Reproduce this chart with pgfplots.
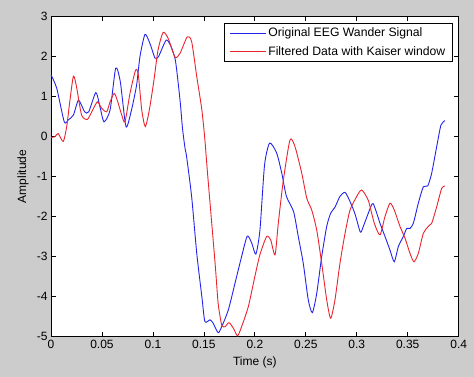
\documentclass[border=0pt]{standalone}
\usepackage{pgfplots}
\pgfplotsset{compat=1.18}
\usepackage{fontspec}
\setmainfont{Liberation Sans}
\definecolor{figbg}{RGB}{204,204,204}
\definecolor{mblue}{RGB}{35,35,235}
\definecolor{mred}{RGB}{235,35,45}
\begin{document}
\begin{tikzpicture}[x=1pt,y=1pt]
\fill[figbg] (0,0) rectangle (474,377);
\begin{axis}[
  at={(51pt,40.3pt)}, anchor=south west,
  width=407.7pt, height=320.7pt, scale only axis,
  xmin=0, xmax=0.4, ymin=-5, ymax=3,
  xtick={0,0.05,0.1,0.15,0.2,0.25,0.3,0.35,0.4},
  xticklabels={0,0.05,0.1,0.15,0.2,0.25,0.3,0.35,0.4},
  ytick={-5,-4,-3,-2,-1,0,1,2,3},
  yticklabels={-5,-4,-3,-2,-1,0,1,2,3},
  tick align=inside, major tick length=5pt,
  tick style={black, line width=0.7pt},
  axis line style={line width=0.8pt},
  axis background/.style={fill=white},
  ticklabel style={font=\fontsize{12}{14}\selectfont},
  label style={font=\fontsize{12}{14}\selectfont},
  xlabel={Time (s)}, ylabel={Amplitude},
  xlabel style={at={(axis description cs:0.5,0)}, anchor=north, inner sep=0pt, yshift=-20pt},
  ylabel style={at={(axis description cs:0,0.5)}, anchor=center, inner sep=0pt, yshift=28pt},
  legend style={at={(1,1)}, anchor=north east, xshift=-6pt, yshift=-6.7pt,
    draw=black, line width=0.8pt, fill=white, font=\fontsize{12.2}{14}\selectfont,
    inner xsep=5pt, inner ysep=3pt, row sep=4pt,
    nodes={inner sep=2pt, line width=0.9pt}},
  legend cell align=left,
  legend image code/.code={\draw[#1] (0pt,0pt) -- (36pt,0pt);},
]
\addplot[mblue, line width=0.9pt, smooth, tension=0.4] coordinates {
(0,1.53) (0.0056,1.2) (0.013,0.36) (0.017,0.41) (0.022,0.53) (0.027,0.9)
(0.033,0.61) (0.037,0.61) (0.044,1.09) (0.048,0.74) (0.052,0.36) (0.058,0.66)
(0.0635,1.70) (0.068,1.36) (0.0736,0.24) (0.079,0.66) (0.084,1.28) (0.0873,1.99)
(0.0922,2.54) (0.097,2.32) (0.102,1.95) (0.105,1.97) (0.107,2.07) (0.113,2.40)
(0.117,2.28) (0.122,1.90) (0.1266,0.9) (0.129,0.2) (0.1315,-0.3) (0.133,-0.5)
(0.138,-1.51) (0.143,-2.92) (0.148,-4.0) (0.151,-4.62) (0.156,-4.58) (0.159,-4.66)
(0.164,-4.9) (0.1675,-4.75) (0.174,-4.33) (0.1805,-3.67) (0.187,-3.0) (0.1926,-2.49)
(0.197,-2.67) (0.201,-2.94) (0.205,-2.34) (0.2095,-0.72) (0.2145,-0.17) (0.2214,-0.42)
(0.2264,-0.92) (0.231,-1.5) (0.238,-1.88) (0.2426,-2.5) (0.2475,-3.17) (0.2524,-4.08)
(0.2564,-4.40) (0.2607,-3.92) (0.2656,-3.0) (0.2705,-2.25) (0.2744,-1.92) (0.2786,-1.77)
(0.2835,-1.50) (0.2885,-1.40) (0.2934,-1.63) (0.2983,-1.94) (0.3035,-2.39) (0.3064,-2.25)
(0.315,-1.69) (0.318,-1.80) (0.3228,-2.17) (0.3277,-2.50) (0.3326,-2.84) (0.3368,-3.13)
(0.3408,-2.75) (0.3457,-2.50) (0.349,-2.30) (0.3522,-2.30) (0.3555,-2.17) (0.3604,-1.67)
(0.3653,-1.26) (0.3696,-1.24) (0.3735,-0.92) (0.3784,-0.26) (0.3826,0.28) (0.3866,0.39)
};
\addlegendentry{Original EEG Wander Signal}
\addplot[mred, line width=0.9pt, smooth, tension=0.4] coordinates {
(0,-0.03) (0.004,-0.01) (0.007,0.07) (0.012,-0.13) (0.0154,0.24) (0.0186,0.9)
(0.022,1.50) (0.025,1.24) (0.030,0.53) (0.0356,0.42) (0.040,0.61) (0.0455,0.86)
(0.0497,0.70) (0.0546,0.61) (0.058,0.86) (0.062,1.07) (0.065,0.9) (0.0694,0.53)
(0.0726,0.36) (0.0775,1.07) (0.083,1.65) (0.0857,1.53) (0.089,0.66) (0.0925,0.24)
(0.0965,0.66) (0.101,1.40) (0.105,2.15) (0.110,2.59) (0.115,2.44) (0.1217,1.97)
(0.1266,2.07) (0.1337,2.48) (0.138,2.36) (0.143,1.49) (0.148,0.66) (0.151,-0.09)
(0.1535,-0.9) (0.161,-3.17) (0.164,-4.17) (0.1675,-4.71) (0.1707,-4.75) (0.1746,-4.65)
(0.179,-4.79) (0.183,-4.98) (0.187,-4.75) (0.1936,-4.25) (0.200,-3.5) (0.205,-2.95)
(0.2116,-2.50) (0.2156,-2.59) (0.2198,-2.96) (0.223,-2.17) (0.228,-1.09) (0.2345,-0.09)
(0.2394,-0.26) (0.246,-0.92) (0.251,-1.55) (0.2558,-1.84) (0.2607,-2.34) (0.2656,-3.17)
(0.2705,-4.08) (0.2744,-4.54) (0.2786,-4.08) (0.2835,-3.17) (0.2885,-2.42) (0.2934,-1.84)
(0.300,-1.50) (0.3048,-1.34) (0.3113,-1.6) (0.3172,-2.17) (0.3228,-2.46) (0.3277,-2.0)
(0.3326,-1.67) (0.3368,-1.84) (0.3424,-2.25) (0.3473,-2.54) (0.3522,-2.92) (0.3561,-3.13)
(0.3604,-2.92) (0.3653,-2.42) (0.3702,-2.25) (0.3735,-2.17) (0.3784,-1.76) (0.3833,-1.30)
(0.3866,-1.24)
};
\addlegendentry{Filtered Data with Kaiser window}
\end{axis}
\end{tikzpicture}
\end{document}
